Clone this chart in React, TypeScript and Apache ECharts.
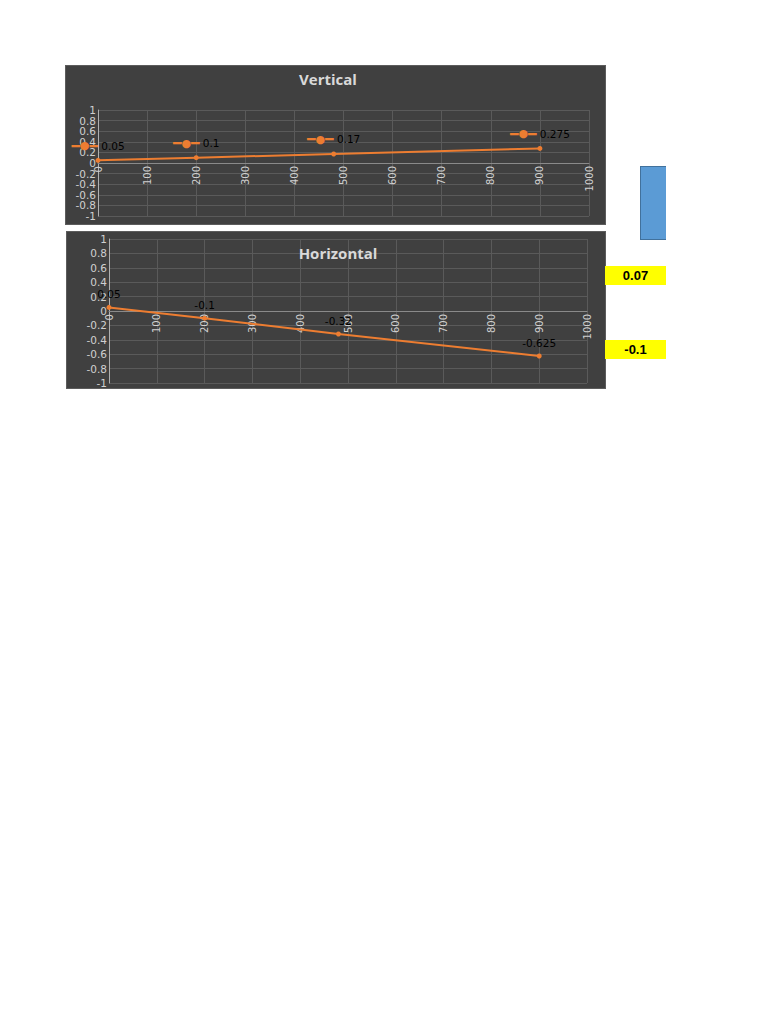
import React, { useEffect, useRef } from "react";
import * as echarts from "echarts";

const xValues = [0, 200, 480, 900];
const verticalValues = [0.05, 0.1, 0.17, 0.275];
const horizontalValues = [0.05, -0.1, -0.32, -0.625];
const xMin = 0;
const xMax = 1000;
const xStep = 100;
const yMin = -1;
const yMax = 1;
const yStep = 0.2;
const sideValues = ["0.07", "-0.1"];

const ORANGE = "#ed7d31";
const PANEL = "#404040";
const GRID = "#5a5a5a";
const TICK = "#d0d0d0";

const fmtY = (v: number) => String(Math.round(v * 10) / 10);

function buildOption(cfg: {
  title: string;
  titleLeft: number;
  titleTop: number;
  values: number[];
  height: number;
  grid: { left: number; top: number; right: number; bottom: number };
  withKey: boolean;
}) {
  const plotH = cfg.height - cfg.grid.top - cfg.grid.bottom;
  // distance from the bottom edge of the plot to the value 0 on the y scale
  const zeroOffset = -(plotH * (0 - yMin)) / (yMax - yMin);
  const yLabelBase = {
    margin: 2,
    color: TICK,
    fontSize: 10.5,
    fontFamily: "DejaVu Sans",
    hideOverlap: false,
  };
  return {
    animation: false,
    backgroundColor: PANEL,
    title: {
      text: cfg.title,
      left: cfg.titleLeft,
      top: cfg.titleTop,
      textAlign: "center",
      textStyle: {
        color: "#d9d9d9",
        fontSize: 15,
        fontWeight: "bold",
        fontFamily: "Open Sans",
      },
    },
    grid: { ...cfg.grid, containLabel: false, outerBoundsMode: "none" },
    xAxis: {
      type: "value",
      min: xMin,
      max: xMax,
      interval: xStep,
      offset: zeroOffset,
      axisLine: { onZero: false, lineStyle: { color: "#8a8a8a", width: 1 } },
      axisTick: { show: false },
      splitLine: { show: true, lineStyle: { color: GRID, width: 1 } },
      axisLabel: {
        rotate: 90,
        margin: 3,
        color: TICK,
        fontSize: 10,
        fontFamily: "DejaVu Sans",
        showMinLabel: true,
        showMaxLabel: true,
        hideOverlap: false,
        formatter: (v: number) => String(v),
      },
    },
    yAxis: [
      {
        type: "value",
        position: "left",
        min: yMin,
        max: yMax,
        interval: yStep,
        axisLine: { show: true, onZero: false, lineStyle: { color: "#b0b0b0", width: 1 } },
        axisTick: { show: false },
        splitLine: { show: true, lineStyle: { color: GRID, width: 1 } },
        axisLabel: {
          ...yLabelBase,
          showMinLabel: true,
          showMaxLabel: true,
          formatter: (v: number) => (v === yMin || v === yMax ? fmtY(v) : ""),
        },
      },
      {
        type: "value",
        position: "left",
        offset: 0,
        min: yMin,
        max: yMax,
        interval: yStep,
        axisLine: { show: false, onZero: false },
        axisTick: { show: false },
        splitLine: { show: false },
        axisLabel: {
          ...yLabelBase,
          showMinLabel: false,
          showMaxLabel: false,
          formatter: (v: number) => fmtY(v),
        },
      },
    ],
    series: [
      {
        type: "line",
        yAxisIndex: 0,
        data: xValues.map((x, i) => [x, cfg.values[i]]),
        lineStyle: { color: ORANGE, width: 2 },
        itemStyle: { color: ORANGE },
        symbol: "circle",
        symbolSize: 5,
        label: {
          show: true,
          position: "top",
          distance: 5,
          color: "#000000",
          fontSize: 10.5,
          fontFamily: "DejaVu Sans",
          formatter: (p: any) =>
            cfg.withKey
              ? `{l|━}{c|●}{l|━} ${p.value[1]}`
              : `${p.value[1]}`,
          rich: cfg.withKey
            ? {
                l: { color: ORANGE, fontSize: 14, fontFamily: "DejaVu Sans" },
                c: { color: ORANGE, fontSize: 11, fontFamily: "DejaVu Sans" },
              }
            : undefined,
        },
      },
    ],
  };
}

function Chart(props: {
  left: number;
  top: number;
  width: number;
  height: number;
  option: any;
}) {
  const ref = useRef<HTMLDivElement>(null);
  useEffect(() => {
    const chart = echarts.init(ref.current!, undefined, { renderer: "svg" });
    chart.setOption(props.option);
    return () => chart.dispose();
  }, []);
  return (
    <div
      ref={ref}
      style={{
        position: "absolute",
        left: props.left,
        top: props.top,
        width: props.width,
        height: props.height,
        boxShadow: "0 0 0 1px #5c5c5c",
      }}
    />
  );
}

export default function App() {
  const topOpt = buildOption({
    title: "Vertical",
    titleLeft: 257,
    titleTop: 0,
    values: verticalValues,
    height: 158,
    grid: { left: 32, top: 44, right: 16, bottom: 8 },
    withKey: true,
  });
  const botOpt = buildOption({
    title: "Horizontal",
    titleLeft: 266,
    titleTop: 8,
    values: horizontalValues,
    height: 156,
    grid: { left: 42, top: 7, right: 18, bottom: 5 },
    withKey: false,
  });
  const yellow: React.CSSProperties = {
    position: "absolute",
    left: 605,
    width: 61,
    height: 19,
    background: "#ffff00",
    color: "#000",
    fontFamily: "Liberation Sans, Arial, sans-serif",
    fontSize: 13,
    fontWeight: "bold",
    lineHeight: "19px",
    textAlign: "center",
  };
  return (
    <div>
      <Chart left={66} top={66} width={539} height={158} option={topOpt} />
      <Chart left={67} top={232} width={538} height={156} option={botOpt} />
      <div
        style={{
          position: "absolute",
          left: 640,
          top: 166,
          width: 25,
          height: 72,
          background: "#5b9bd5",
          border: "1px solid #41719c",
          borderRight: "none",
        }}
      />
      <div style={{ ...yellow, top: 266 }}>{sideValues[0]}</div>
      <div style={{ ...yellow, top: 340 }}>{sideValues[1]}</div>
    </div>
  );
}
